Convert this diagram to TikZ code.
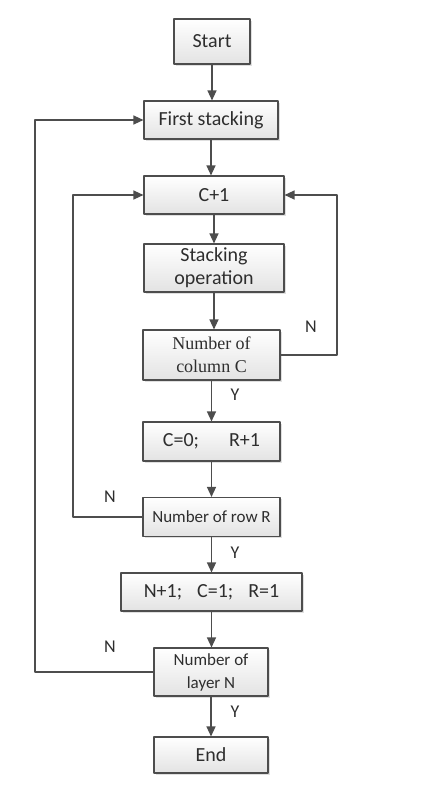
\documentclass[tikz,border=0pt]{standalone}
\usepackage{fontspec}
\setmainfont{Carlito}
\newfontfamily\seriffam{Liberation Serif}
\usetikzlibrary{shadows,arrows.meta}
\definecolor{linegray}{HTML}{4D4D4D}
\definecolor{textgray}{HTML}{2E2E2E}
\begin{document}
\begin{tikzpicture}[line cap=round,line join=round,x=1pt,y=-1pt,
		box/.style={draw=linegray,line width=1.1pt,top color=white,bottom color=gray!22,
			drop shadow={shadow xshift=1.5pt,shadow yshift=-1.5pt,opacity=0.25},
			inner sep=0pt,align=center,text=textgray,font=\fontsize{20}{23}\selectfont},
		small/.style={font=\fontsize{17}{23}\selectfont},
		flow/.style={draw=linegray,line width=1.3pt,-{Triangle[length=10pt,width=9pt]}},
		lbl/.style={text=textgray,font=\fontsize{18}{20}\selectfont}]
				\useasboundingbox (0,0) rectangle (422,793);
				\node[box,minimum width=76pt,minimum height=45pt] (start) at (212,41.5) {Start};
				\node[box,minimum width=134pt,minimum height=38pt] (first) at (211,120) {First stacking};
				\node[box,minimum width=140pt,minimum height=38pt] (cplus) at (214,195) {C+1};
				\node[box,minimum width=140pt,minimum height=48pt] (stackop) at (214,268) {Stacking\\operation};
				\node[box,minimum width=137pt,minimum height=50pt,font=\seriffam\fontsize{18}{23}\selectfont] (colC) at (211.5,355) {Number of\\column C};
				\node[box,minimum width=137pt,minimum height=39pt] (czero) at (211.5,441.5) {C=0;\hspace{30pt}R+1};
				\node[box,small,minimum width=137pt,minimum height=39pt] (rowR) at (211.5,517) {Number of row R};
				\node[box,minimum width=181pt,minimum height=38pt] (ncr) at (211.5,592) {N+1;\hspace{15pt}C=1;\hspace{15pt}R=1};
				\node[box,small,minimum width=114pt,minimum height=48pt] (layerN) at (211,672) {Number of\\layer N};
				\node[box,minimum width=114pt,minimum height=36pt] (endn) at (211,755) {End};
				\coordinate (rx) at (337,0);
				\coordinate (lx) at (73,0);
				\coordinate (llx) at (35,0);
				% main line
				\draw[flow] (start.south) -- (start.south |- first.north);
				\draw[flow] (first.south) -- (first.south |- cplus.north);
				\draw[flow] (cplus.south) -- (cplus.south |- stackop.north);
				\draw[flow] (stackop.south) -- (stackop.south |- colC.north);
				\draw[flow] (colC.south) -- (colC.south |- czero.north);
				\draw[flow] (czero.south) -- (czero.south |- rowR.north);
				\draw[flow] (rowR.south) -- (rowR.south |- ncr.north);
				\draw[flow] (ncr.south) -- (ncr.south |- layerN.north);
				\draw[flow] (layerN.south) -- (layerN.south |- endn.north);
				% loops back
				\draw[flow] (colC.east) -- (colC.east -| rx) |- (cplus.east);
				\draw[flow] (rowR.west) -- (rowR.west -| lx) |- (cplus.west);
				\draw[flow] (layerN.west) -- (layerN.west -| llx) |- (first.west);
				\node[lbl] (ncol) at (311,327) {N};
				\node[lbl] (nrow) at (110,497) {N};
				\node[lbl] (nlay) at (110,647) {N};
				\node[lbl] (ycol) at (235,395) {Y};
				\node[lbl] (yrow) at (235,553) {Y};
				\node[lbl] (ylay) at (235,712) {Y};
			\end{tikzpicture}
\end{document}
